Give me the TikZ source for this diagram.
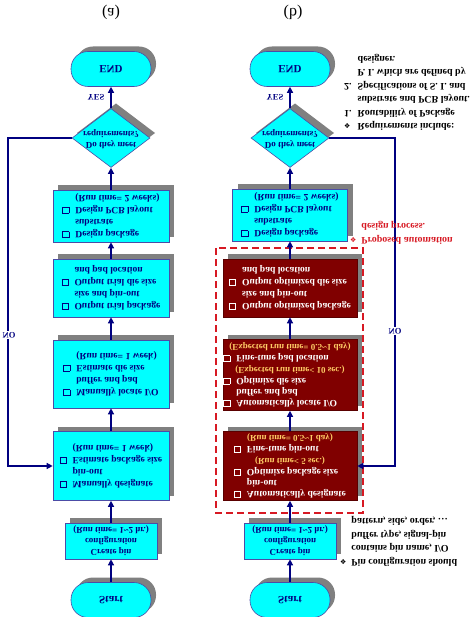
\documentclass[tikz,border=0pt]{standalone}
\usepackage{fontspec}
\setmainfont{Liberation Serif}
\newfontfamily\dejavu{DejaVu Sans}
\usetikzlibrary{arrows.meta,shapes.geometric}
\definecolor{cyanf}{RGB}{0,255,255}
\definecolor{navyc}{RGB}{0,0,128}
\definecolor{maroonf}{RGB}{128,0,0}
\definecolor{shadowc}{RGB}{128,128,128}
\definecolor{yelc}{RGB}{255,204,102}
\definecolor{redc}{RGB}{215,25,35}
\newcommand\cb{{\fboxsep=0pt\fboxrule=0.7pt\fbox{\rule{0pt}{5.5pt}\hspace{5.5pt}}}}
\newcommand\yl[1]{\multicolumn{2}{c}{\color{yelc}\fontsize{9}{11.2}\selectfont#1}}
\newcommand\shbox[7]{%
  \fill[shadowc] (#2-#4/2+5,#3-#5/2-5) rectangle (#2+#4/2+5,#3+#5/2-5);
  \node[#6,minimum width=#4pt,minimum height=#5pt] (#1) at (#2,#3) {#7};}
\newcommand\term[4]{%
  \fill[shadowc,rounded corners=17pt] (#2-40+5,#3-17.5-5) rectangle (#2+40+5,#3+17.5-5);
  \node[termst] (#1) at (#2,#3) {#4};}
\newcommand\dmd[3]{%
  \fill[shadowc] (#2+5,#3-29.5-5) -- (#2+39+5,#3-5) -- (#2+5,#3+29.5-5) -- (#2-39+5,#3-5) -- cycle;
  \node[dmdst] (#1) at (#2,#3) {};
  \node[dtext] (#1t) at (#2,#3+1) {Do they meet\\requirements?};}
\tikzset{
  cbox/.style={draw=navyc!70, line width=0.6pt, fill=cyanf, text=navyc, inner sep=0pt,
    font=\fontsize{9.6}{12.2}\selectfont\bfseries},
  mbox/.style={draw=maroonf!70!black, line width=0.6pt, fill=maroonf, text=white, inner sep=0pt,
    font=\fontsize{9.6}{11.2}\selectfont\bfseries},
  termst/.style={draw=navyc!70, line width=0.6pt, fill=cyanf, text=navyc, rounded corners=17pt,
    minimum width=80pt, minimum height=35pt, inner sep=0pt, font=\fontsize{11}{13}\selectfont\bfseries},
  dmdst/.style={diamond, draw=navyc!70, line width=0.6pt, fill=cyanf, minimum width=78pt,
    minimum height=59pt, inner sep=0pt},
  dtext/.style={text=navyc, align=center, inner sep=0pt, font=\fontsize{9}{11.5}\selectfont\bfseries},
  arr/.style={draw=navyc, line width=1.3pt, -{Triangle[length=6pt,width=6pt]}},
  lbl/.style={text=navyc, inner sep=1pt, font=\fontsize{8.5}{10}\selectfont\bfseries},
  note/.style={inner sep=0pt, anchor=base west, font=\fontsize{10}{13.5}\selectfont\bfseries},
  ttl/.style={inner sep=0pt, font=\fontsize{16}{18}\selectfont}
}
\begin{document}
\begin{tikzpicture}[x=1pt,y=1pt,yscale=-1,transform shape]
\useasboundingbox (0,0) rectangle (474,617);
% titles
\node[ttl] (tA) at (111,12) {(a)};
\node[ttl] (tB) at (293,12) {(b)};
% ---------- column (a)
\term{eA}{111}{69}{END}
\dmd{dA}{111}{138}
\shbox{bA1}{111}{216}{116}{52}{cbox}{\begin{tabular}{@{}l@{\hspace{6pt}}l@{}}\cb & Design package\\ & substrate\\ \cb & Design PCB layout\\ & (Run time= 2 weeks)\end{tabular}}
\shbox{bA2}{111}{288}{116}{58}{cbox}{\begin{tabular}{@{}l@{\hspace{6pt}}l@{}}\cb & Output trial package\\ & size and pin-out\\ \cb & Output trial die size\\ & and pad location\end{tabular}}
\shbox{bA3}{111}{374}{116}{68}{cbox}{\begin{tabular}{@{}l@{\hspace{6pt}}l@{}}\cb & Manually locate I/O\\ & buffer and pad\\ \cb & Estimate die size\\ & (Run time= 1 week)\end{tabular}}
\shbox{bA4}{111}{466}{116}{69}{cbox}{\begin{tabular}{@{}l@{\hspace{6pt}}l@{}}\cb & Manually designate\\ & pin-out\\ \cb & Estimate package size\\ & (Run time= 1 week)\end{tabular}}
\shbox{cA}{111}{541}{92}{36}{cbox,font=\fontsize{9}{11}\selectfont\bfseries}{\begin{tabular}{@{}c@{}}Create pin\\configuration\\(Run time= 1\textasciitilde2 hr.)\end{tabular}}
\term{sA}{111}{600}{Start}
% ---------- column (b)
\term{eB}{290}{69}{END}
\dmd{dB}{290}{138}
\draw[redc, dashed, dash pattern=on 7pt off 4pt, line width=1.4pt] (216,248) rectangle (363,513);
\shbox{bB1}{290}{215}{115}{52}{cbox}{\begin{tabular}{@{}l@{\hspace{6pt}}l@{}}\cb & Design package\\ & substrate\\ \cb & Design PCB layout\\ & (Run time= 2 weeks)\end{tabular}}
\shbox{bB2}{290}{288}{134}{58}{mbox,font=\fontsize{9.6}{12.2}\selectfont\bfseries}{\begin{tabular}{@{}l@{\hspace{6pt}}l@{}}\cb & Output optimized package\\ & size and pin-out\\ \cb & Output optimized die size\\ & and pad location\end{tabular}}
\shbox{bB3}{290}{375}{134}{71}{mbox}{\begin{tabular}{@{}l@{\hspace{6pt}}l@{}}\cb & Automatically locate I/O\\ & buffer and pad\\ \cb & Optimize die size\\ \yl{(Expected run time< 10 sec.)}\\ \cb & Fine-tune pad location\\ \yl{(Expected run time= 0.5\textasciitilde1 day)}\end{tabular}}
\shbox{bB4}{290}{466}{134}{69}{mbox}{\begin{tabular}{@{}l@{\hspace{6pt}}l@{}}\cb & Automatically designate\\ & pin-out\\ \cb & Optimize package size\\ \yl{(Run time< 5 sec.)}\\ \cb & Fine-tune pin-out\\ \yl{(Run time= 0.5\textasciitilde1 day)}\end{tabular}}
\shbox{cB}{290}{541}{92}{36}{cbox,font=\fontsize{9}{11}\selectfont\bfseries}{\begin{tabular}{@{}c@{}}Create pin\\configuration\\(Run time= 1\textasciitilde2 hr.)\end{tabular}}
\term{sB}{290}{600}{Start}
% ---------- arrows (a)
\draw[arr] (sA) -- (cA);
\draw[arr] (cA) -- (bA4);
\draw[arr] (bA4) -- (bA3);
\draw[arr] (bA3) -- (bA2);
\draw[arr] (bA2) -- (bA1);
\draw[arr] (bA1) -- (dA);
\draw[arr] (dA) -- (eA);
\coordinate (lA) at (8,138);
\draw[arr] (dA.west) -- (lA) |- (bA4.west);
\node[lbl, fill=white] (noA) at (9,335) {NO};
\node[lbl] (yesA) at (96,97) {YES};
% ---------- arrows (b)
\draw[arr] (sB) -- (cB);
\draw[arr] (cB) -- (bB4);
\draw[arr] (bB4) -- (bB3);
\draw[arr] (bB3) -- (bB2);
\draw[arr] (bB2) -- (bB1);
\draw[arr] (bB1) -- (dB);
\draw[arr] (dB) -- (eB);
\coordinate (lB) at (395,138);
\draw[arr] (dB.east) -- (lB) |- (bB4.east);
\node[lbl, fill=white] (noB) at (395,331) {NO};
\node[lbl] (yesB) at (275,97) {YES};
% ---------- notes
\node[note] (n1) at (340,559) {\begin{tabular}[t]{@{}l@{\hspace{5pt}}l@{}}{\dejavu\fontsize{7}{9}\selectfont ❖} & Pin configuration should\\ & contains pin name, I/O\\ & buffer type, signal-pin\\ & pattern, side, order, \dots\end{tabular}};
\node[note, text=redc] (n2) at (350,237) {\begin{tabular}[t]{@{}l@{\hspace{5pt}}l@{}}{\dejavu\fontsize{7}{9}\selectfont ❖} & Proposed automation\\ & design process.\end{tabular}};
\node[note] (n3) at (344,124) {\begin{tabular}[t]{@{}l@{\hspace{6pt}}l@{}}{\dejavu\fontsize{7}{9}\selectfont ❖} & Requirements include:\\ 1. & Routability of Package\\ & substrate and PCB layout.\\ 2. & Specifications of S. I. and\\ & P. I. which are defined by\\ & designer.\end{tabular}};
\end{tikzpicture}
\end{document}
